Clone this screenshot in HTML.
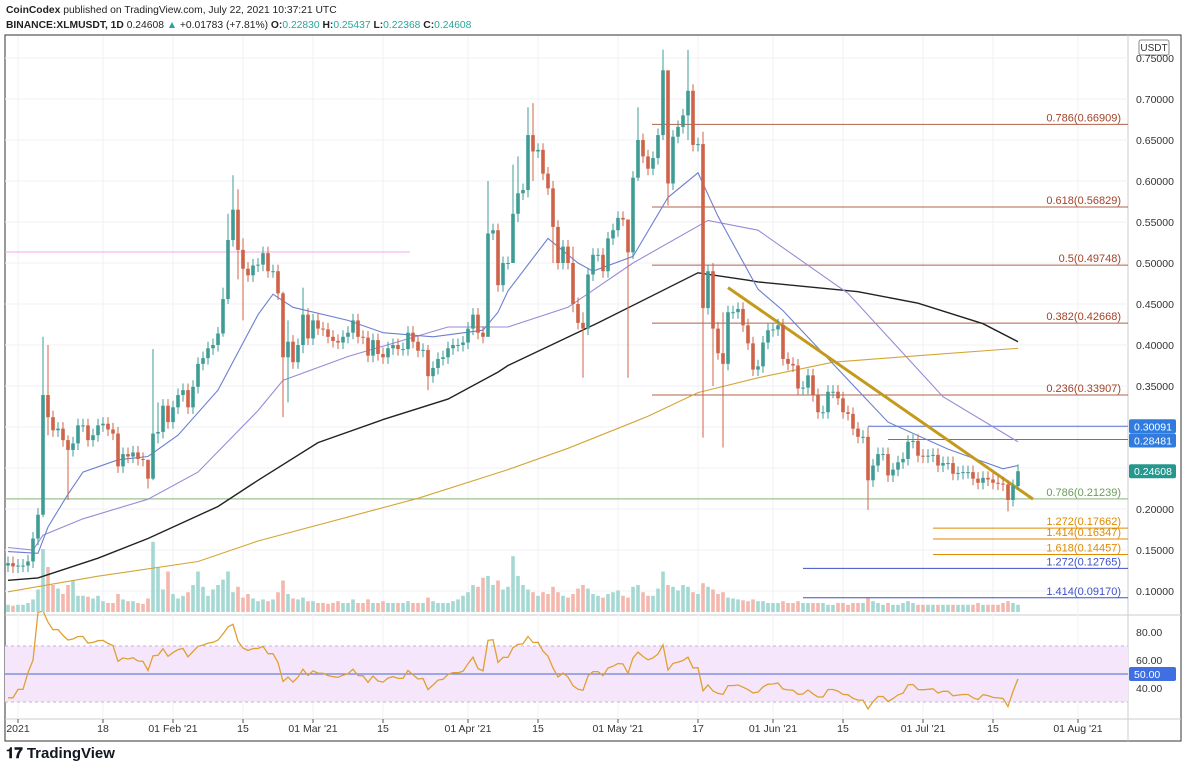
<!DOCTYPE html>
<html><head><meta charset="utf-8"><style>
html,body{margin:0;padding:0;background:#fff;}
svg{display:block;font-family:"Liberation Sans",sans-serif;}
</style></head><body>
<svg id="chart" width="1186" height="768" viewBox="0 0 1186 768" xmlns="http://www.w3.org/2000/svg">
<text x="6" y="13" font-size="10.3" fill="#222"><tspan font-weight="bold">CoinCodex</tspan> published on TradingView.com, July 22, 2021 10:37:21 UTC</text>
<text x="6" y="28" font-size="10.3" fill="#222"><tspan font-weight="bold">BINANCE:XLMUSDT, 1D</tspan> 0.24608 <tspan fill="#26a69a">▲</tspan> +0.01783 (+7.81%) <tspan font-weight="bold">O:</tspan><tspan fill="#26a69a">0.22830</tspan> <tspan font-weight="bold">H:</tspan><tspan fill="#26a69a">0.25437</tspan> <tspan font-weight="bold">L:</tspan><tspan fill="#26a69a">0.22368</tspan> <tspan font-weight="bold">C:</tspan><tspan fill="#26a69a">0.24608</tspan></text>
<rect x="5" y="35" width="1176" height="706" fill="none" stroke="#555" stroke-width="1.2"/>
<line x1="1128" y1="35" x2="1128" y2="741" stroke="#ccc"/>
<line x1="5" y1="615" x2="1181" y2="615" stroke="#ccc"/>
<line x1="5" y1="719" x2="1181" y2="719" stroke="#ccc"/>
<g id="grid"></g>
<g id="rsiPanel"></g>
<g id="vol"></g>
<g id="fibs"></g>
<g id="mas"></g>
<g id="candles"></g>
<g id="axes"></g>
<text x="6" y="758" font-size="15" font-weight="bold" fill="#131722">𝟏𝟕 TradingView</text>
</svg>
<script>
const NS='http://www.w3.org/2000/svg';
const closes=[.134,.130,.131,.131,.136,.164,.193,.339,.312,.296,
.298,.284,.272,.280,.302,.302,.284,.290,.302,.304,
.297,.292,.252,.267,.264,.269,.261,.260,.237,.292,
.294,.326,.306,.324,.339,.345,.324,.349,.377,.384,
.396,.400,.414,.456,.528,.565,.516,.493,.485,.497,
.498,.512,.490,.490,.463,.385,.404,.379,.400,.437,
.408,.430,.420,.419,.410,.405,.403,.410,.415,.430,
.410,.409,.387,.406,.389,.385,.396,.400,.395,.395,
.415,.404,.393,.394,.362,.372,.383,.385,.396,.400,
.400,.403,.420,.437,.415,.410,.536,.540,.473,.500,
.500,.560,.585,.589,.656,.636,.638,.609,.591,.544,
.500,.520,.500,.450,.427,.420,.486,.510,.510,.490,
.530,.540,.555,.553,.513,.604,.650,.630,.615,.628,
.656,.735,.597,.654,.666,.680,.710,.644,.645,.445,
.490,.420,.390,.377,.440,.440,.444,.424,.402,.370,
.374,.403,.418,.419,.424,.383,.377,.375,.347,.348,
.363,.339,.318,.318,.343,.343,.335,.318,.316,.298,
.288,.288,.235,.253,.267,.267,.241,.248,.257,.261,
.282,.283,.265,.264,.265,.266,.253,.256,.256,.243,
.244,.245,.245,.237,.232,.238,.236,.232,.231,.230,
.211,.228,.24608];
const firstOpen=0.131;
const bigWicks=[[7,0.41,0.19],[8,0.40,0.29],[12,0.29,0.211],[28,0.26,0.225],[29,0.395,0.235],[30,0.33,0.28],[43,0.47,0.41],[44,0.56,0.45],[45,0.607,0.52],[46,0.59,0.48],[47,0.53,0.43],[55,0.465,0.312],[56,0.43,0.33],[59,0.47,0.39],[84,0.40,0.345],[96,0.60,0.41],[101,0.62,0.52],[102,0.63,0.55],[104,0.69,0.58],[105,0.695,0.60],[109,0.60,0.50],[113,0.52,0.44],[115,0.44,0.36],[124,0.55,0.36],[126,0.69,0.60],[131,0.76,0.65],[132,0.72,0.57],[136,0.76,0.65],[139,0.66,0.287],[141,0.50,0.35],[143,0.44,0.275],[172,0.30,0.199],[200,0.235,0.197],[202,0.25437,0.22368]];
const volumes=[8,7,8,8,10,14,25,70,50,30,26,20,30,35,18,18,17,15,18,12,10,10,20,14,12,12,10,9,15,78,50,25,45,20,15,18,22,30,45,28,18,25,30,36,45,22,28,16,20,15,12,14,12,14,22,35,20,15,14,16,12,12,10,10,9,10,12,10,10,14,10,10,14,10,10,12,10,10,10,10,12,10,10,10,16,12,10,10,10,12,14,18,22,30,28,38,40,30,35,25,28,62,40,30,25,22,18,22,20,28,22,18,16,20,26,30,26,20,18,16,20,22,24,18,16,28,30,22,18,18,26,45,30,28,24,30,28,22,20,32,28,25,20,22,16,15,14,13,12,14,12,12,10,10,10,12,10,10,12,10,10,10,10,10,8,8,10,10,8,10,10,10,16,12,10,8,10,8,8,10,12,10,8,8,8,8,8,8,8,8,8,8,8,8,10,8,8,8,8,10,12,10,8];
const ma20=[[0,0.148],[6,0.146],[8,0.178],[12,0.218],[15,0.245],[22,0.26],[28,0.264],[34,0.29],[42,0.345],[50,0.437],[53,0.462],[57,0.446],[68,0.43],[75,0.415],[85,0.41],[95,0.418],[98,0.44],[100,0.466],[108,0.53],[114,0.50],[117,0.49],[125,0.508],[132,0.58],[138,0.61],[142,0.557],[150,0.468],[155,0.442],[165,0.377],[176,0.306],[188,0.273],[199,0.249],[202,0.253]];
const ma50=[[0,0.153],[5,0.15],[7,0.168],[15,0.188],[28,0.212],[38,0.245],[50,0.32],[55,0.357],[68,0.386],[88,0.422],[100,0.422],[112,0.446],[125,0.50],[140,0.552],[150,0.54],[168,0.463],[187,0.337],[202,0.282]];
const ma100=[[0,0.113],[6,0.116],[18,0.14],[28,0.164],[42,0.203],[50,0.235],[62,0.281],[75,0.309],[88,0.334],[98,0.367],[100,0.375],[118,0.427],[138,0.488],[148,0.479],[150,0.477],[170,0.465],[182,0.451],[195,0.426],[202,0.404]];
const ma200=[[0,0.099],[18,0.118],[38,0.136],[50,0.161],[82,0.213],[100,0.248],[112,0.274],[128,0.313],[138,0.342],[150,0.36],[165,0.379],[182,0.387],[202,0.396]];
const priceTicks=[0.75,0.70,0.65,0.60,0.55,0.50,0.45,0.40,0.35,0.30,0.25,0.20,0.15,0.10];
const rsiTicks=[80,60,40];
const dateIdx=[2,19,33,47,61,75,92,106,122,138,153,167,183,197,214];
const dateLabels=["2021","18","01 Feb '21","15","01 Mar '21","15","01 Apr '21","15","01 May '21","17","01 Jun '21","15","01 Jul '21","15","01 Aug '21"];
const fibLevels=[["0.786","0.66909"],["0.618","0.56829"],["0.5","0.49748"],["0.382","0.42668"],["0.236","0.33907"]];
const extLevels=[["1.272","0.17662","#e08a00",1.272],["1.414","0.16347","#e08a00",1.414],["1.618","0.14457","#e08a00",1.618],["1.272","0.12765","#3f51c8",1.272],["1.414","0.09170","#3f51c8",1.414]];
const extStart=[185,185,185,159,159];
const trend=[[144,0.47],[205,0.212]];

const xOf=i=>8+5*i;
const yOf=p=>58+(0.75-p)*820;
const yR=r=>632+(80-r)*1.4;
const volBase=612, vScale=0.9;
function el(tag,attrs,parent,txt){const e=document.createElementNS(NS,tag);for(const k in attrs)e.setAttribute(k,attrs[k]);if(txt!==undefined)e.textContent=txt;parent.appendChild(e);return e;}
const G=id=>document.getElementById(id);

const grid=G('grid');
priceTicks.forEach(p=>{const l=el('line',{x1:5,x2:1128,y1:yOf(p),y2:yOf(p),stroke:'#f0f2f7'},grid);});
dateIdx.forEach(i=>{const l=el('line',{x1:xOf(i),x2:xOf(i),y1:36,y2:719,stroke:'#f0f2f7'},grid);});

const rp=G('rsiPanel');
let r=el('rect',{x:5,y:yR(70),width:1123,height:yR(30)-yR(70),fill:'#f5e6fb'},rp);

[70,30].forEach(v=>{const l=el('line',{x1:5,x2:1128,y1:yR(v),y2:yR(v),stroke:'#c9b3d6','stroke-dasharray':'3,3'},rp);});
r=el('line',{x1:5,x2:1128,y1:yR(50),y2:yR(50),stroke:'#6b7fd7','stroke-width':1.2},rp);

const rsi=[];let ag=0,al=0;
for(let i=1;i<closes.length;i++){const ch=closes[i]-closes[i-1];const g=Math.max(ch,0),lo=Math.max(-ch,0);
 if(i<=14){ag=(ag*(i-1)+g)/i;al=(al*(i-1)+lo)/i;}else{ag=(ag*13+g)/14;al=(al*13+lo)/14;}
 rsi[i]=al===0?100:100-100/(1+ag/al);}
rsi[0]=rsi[1];
let pd='';rsi.forEach((v,i)=>{const c=Math.max(20,Math.min(95,i<6?48+(v-50)*0.3:v));pd+=(i?'L':'M')+xOf(i)+','+yR(c).toFixed(1);});
r=el('path',{d:pd,fill:'none',stroke:'#e0a030','stroke-width':1.3},rp);


const vg=G('vol');
closes.forEach((c,i)=>{const o=i?closes[i-1]:firstOpen;const h=volumes[i]*vScale;
 const b=el('rect',{x:xOf(i)-1.8,y:volBase-h,width:3.6,height:h,fill:c>=o?'#a5d8d3':'#f3b7ae'},vg);
 });

const fg=G('fibs');
r=el('line',{x1:5,x2:1128,y1:yOf(0.21239),y2:yOf(0.21239),stroke:'#9cc38f','stroke-width':1.2},fg);

r=el('text',{x:1121,y:yOf(0.21239)-3,'text-anchor':'end','font-size':11,fill:'#6f9a5c'},fg,'0.786(0.21239)');

fibLevels.forEach(f=>{const p=+f[1];
 const l=el('line',{x1:652,x2:1128,y1:yOf(p),y2:yOf(p),stroke:'#b0624a','stroke-width':1},fg);
 
 const t=el('text',{x:1121,y:yOf(p)-3,'text-anchor':'end','font-size':11,fill:'#a0442a'},fg,f[0]+'('+f[1]+')');
 });
extLevels.forEach((f,k)=>{const p=+f[1];
 const l=el('line',{x1:xOf(extStart[k]),x2:1128,y1:yOf(p),y2:yOf(p),stroke:f[2],'stroke-width':1},fg);
 
 const t=el('text',{x:1121,y:yOf(p)-3,'text-anchor':'end','font-size':11,fill:f[2]},fg,f[0]+'('+f[1]+')');
 });
[[0.30091,172],[0.28481,176]].forEach(a=>{const l=el('line',{x1:xOf(a[1]),x2:1128,y1:yOf(a[0]),y2:yOf(a[0]),stroke:'#5b6fd6','stroke-width':1},fg);
 });
r=el('line',{x1:5,x2:410,y1:252,y2:252,stroke:'#f3a8ee','stroke-width':1},fg);


const mg=G('mas');
[[ma200,'#d4a537','ma200'],[ma100,'#222','ma100'],[ma50,'#9a8ad8','ma50'],[ma20,'#6b7fd0','ma20']].forEach(m=>{
 let d='';m[0].forEach((p,k)=>{d+=(k?'L':'M')+xOf(p[0])+','+yOf(p[1]).toFixed(1);});
 const l=el('path',{d:d,fill:'none',stroke:m[1],'stroke-width':m[2]==='ma100'?1.4:1.1},mg);
 });
r=el('line',{x1:xOf(trend[0][0]),y1:yOf(trend[0][1]),x2:xOf(trend[1][0]),y2:yOf(trend[1][1]),stroke:'#c49a1c','stroke-width':3},mg);


const cg=G('candles');
const wk={};bigWicks.forEach(w=>wk[w[0]]=w);
closes.forEach((c,i)=>{const o=i?closes[i-1]:firstOpen;const up=c>=o;const col=up?'#3f9c95':'#cf6349';
 let hi=Math.max(o,c)+0.008,lo=Math.min(o,c)-0.008;if(wk[i]){hi=wk[i][1];lo=wk[i][2];}
 const w=el('line',{x1:xOf(i),x2:xOf(i),y1:yOf(hi),y2:yOf(lo),stroke:col,'stroke-width':1},cg);
 
 const top=yOf(Math.max(o,c)),bh=Math.max(1,Math.abs(yOf(o)-yOf(c)));
 const b=el('rect',{x:xOf(i)-1.8,y:top,width:3.6,height:bh,fill:col},cg);
 });

const ax=G('axes');
r=el('rect',{x:1139,y:40,width:30,height:15,fill:'#fff',stroke:'#888',rx:2},ax);

r=el('text',{x:1154,y:51,'text-anchor':'middle','font-size':10,fill:'#333'},ax,'USDT');

priceTicks.forEach(p=>{const t=el('text',{x:1136,y:yOf(p)+4,'font-size':10.5,fill:'#333'},ax,p.toFixed(5));
 });
rsiTicks.forEach(v=>{const t=el('text',{x:1136,y:yR(v)+4,'font-size':10.5,fill:'#333'},ax,v.toFixed(2));
 });
function tag(v,y,fill,name){const g=el('g',{},ax);
 el('rect',{x:1129,y:y-7,width:47,height:14,fill:fill,rx:2},g);el('text',{x:1134,y:y+4,'font-size':10.5,fill:'#fff'},g,v);}
tag('0.30091',yOf(0.30091),'#2f7be0','price-tag-030091');
tag('0.28481',yOf(0.28481)+1,'#2f7be0','price-tag-028481');
tag('0.24608',yOf(0.24608),'#26978f','last-price-tag');
tag('50.00',yR(50),'#3f6fe0','rsi-50-tag');
dateIdx.forEach((i,k)=>{const t=el('text',{x:xOf(i),y:732,'text-anchor':'middle','font-size':10.5,fill:'#333'},ax,dateLabels[k]);
 
 const l=el('line',{x1:xOf(i),x2:xOf(i),y1:719,y2:723,stroke:'#555'},ax);});
</script>
</body></html>
